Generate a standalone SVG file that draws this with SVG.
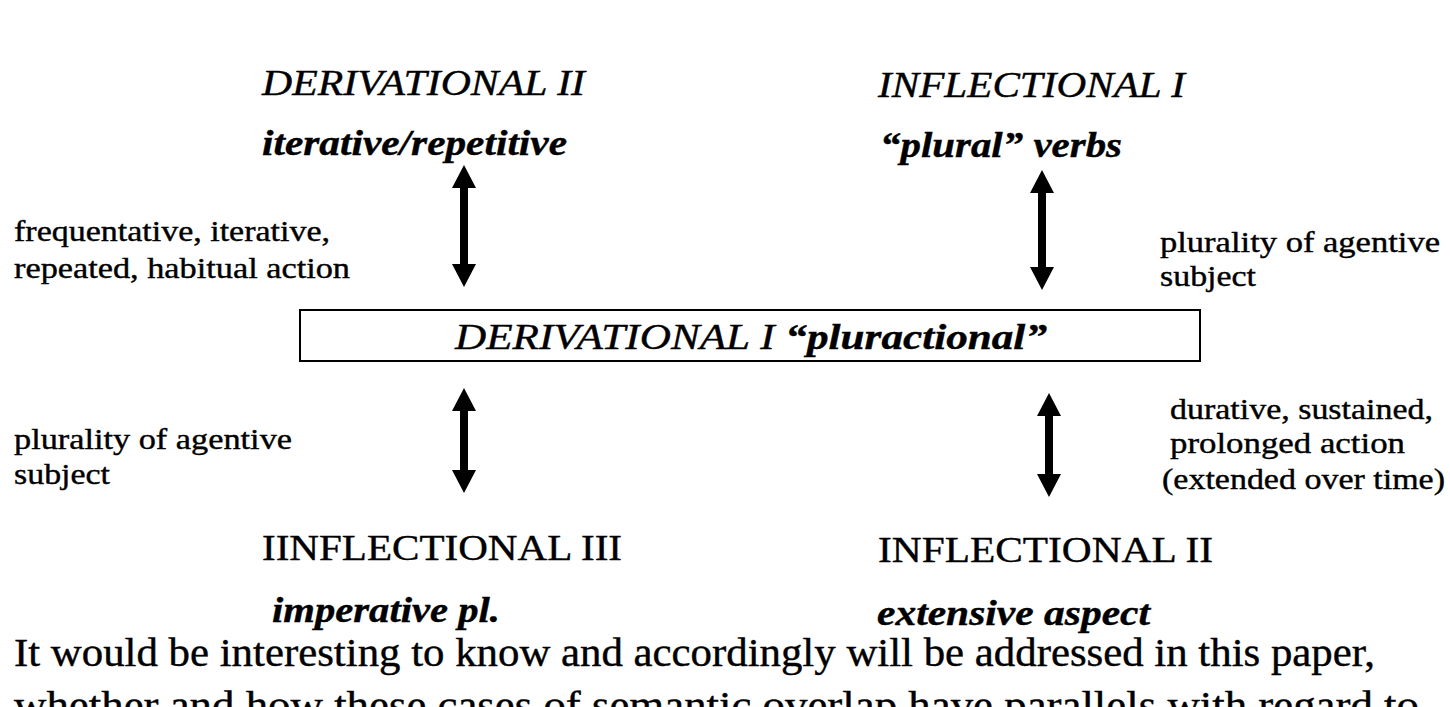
<svg xmlns="http://www.w3.org/2000/svg" width="1450" height="707" viewBox="0 0 1450 707">
<defs>
<style>
text{font-family:"Liberation Serif","Times New Roman",serif;fill:#000;stroke:#000;stroke-width:0.4}
.h{font-size:36px;font-style:italic}
.hb{font-size:36px;font-style:italic;font-weight:bold}
.hu{font-size:36px}
.l{font-size:30px}
.p{font-size:39px}
.arr{fill:#000}
</style>
</defs>
<rect width="1450" height="707" fill="#fff"/>
<g id="derivational2">
<text class="h" x="262" y="95" textLength="323" lengthAdjust="spacingAndGlyphs">DERIVATIONAL II</text>
<text class="hb" x="262" y="155" textLength="305" lengthAdjust="spacingAndGlyphs">iterative/repetitive</text>
</g>
<g id="inflectional1">
<text class="h" x="878" y="97" textLength="307" lengthAdjust="spacingAndGlyphs">INFLECTIONAL I</text>
<text class="hb" x="880" y="157" textLength="242" lengthAdjust="spacingAndGlyphs">“plural” verbs</text>
</g>
<g id="derivational1">
<rect x="300" y="310" width="900" height="51" fill="none" stroke="#000" stroke-width="2"/>
<text class="h" x="455" y="349" font-size="38" textLength="592" lengthAdjust="spacingAndGlyphs"><tspan>DERIVATIONAL I  </tspan><tspan font-weight="bold">“pluractional”</tspan></text>
</g>
<g id="inflectional3">
<text class="hu" x="262" y="560" textLength="360" lengthAdjust="spacingAndGlyphs">IINFLECTIONAL III</text>
<text class="hb" x="272" y="622" textLength="228" lengthAdjust="spacingAndGlyphs">imperative pl.</text>
</g>
<g id="inflectional2">
<text class="hu" x="878" y="562" textLength="335" lengthAdjust="spacingAndGlyphs">INFLECTIONAL II</text>
<text class="hb" x="877" y="625" textLength="273" lengthAdjust="spacingAndGlyphs">extensive aspect</text>
</g>
<g id="connectors">
<path class="arr" d="M464,165 L476,188 L468,188 L468,264 L476,264 L464,287 L452,264 L460,264 L460,188 L452,188 Z"/>
<path class="arr" d="M1042,170 L1054,193 L1046,193 L1046,267 L1054,267 L1042,290 L1030,267 L1038,267 L1038,193 L1030,193 Z"/>
<path class="arr" d="M464,388 L476,411 L468,411 L468,470 L476,470 L464,493 L452,470 L460,470 L460,411 L452,411 Z"/>
<path class="arr" d="M1049,393 L1061,416 L1053,416 L1053,474 L1061,474 L1049,497 L1037,474 L1045,474 L1045,416 L1037,416 Z"/>
</g>
<g id="labels">
<text class="l" x="14" y="241" textLength="316" lengthAdjust="spacingAndGlyphs">frequentative, iterative,</text>
<text class="l" x="14" y="278" textLength="336" lengthAdjust="spacingAndGlyphs">repeated, habitual action</text>
<text class="l" x="1160" y="252" textLength="280" lengthAdjust="spacingAndGlyphs">plurality of agentive</text>
<text class="l" x="1160" y="286" textLength="96" lengthAdjust="spacingAndGlyphs">subject</text>
<text class="l" x="14" y="449" textLength="278" lengthAdjust="spacingAndGlyphs">plurality of agentive</text>
<text class="l" x="14" y="484" textLength="96" lengthAdjust="spacingAndGlyphs">subject</text>
<text class="l" x="1170" y="419" textLength="263" lengthAdjust="spacingAndGlyphs">durative, sustained,</text>
<text class="l" x="1170" y="453" textLength="235" lengthAdjust="spacingAndGlyphs">prolonged action</text>
<text class="l" x="1162" y="489" textLength="283" lengthAdjust="spacingAndGlyphs">(extended over time)</text>
</g>
<g id="paragraph">
<text class="p" x="14" y="666" textLength="1361" lengthAdjust="spacingAndGlyphs">It would be interesting to know and accordingly will be addressed in this paper,</text>
<text class="p" x="14" y="719" textLength="1405" lengthAdjust="spacingAndGlyphs">whether and how these cases of semantic overlap have parallels with regard to</text>
</g>
</svg>
